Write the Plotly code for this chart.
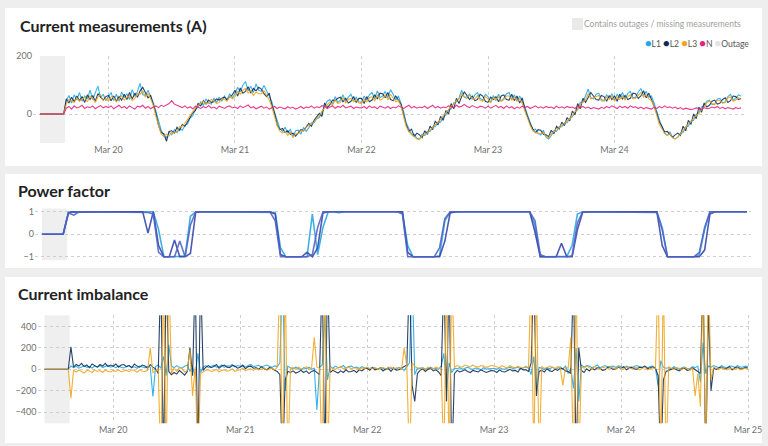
import pandas as pd
import plotly.graph_objects as go

# ---------------- data ----------------
# currents & imbalance: half-hourly from Mar 19 11:00 to Mar 25 00:00 (267 points)
# power factor: hourly from Mar 19 11:00 to Mar 25 00:00 (134 points)
START = "2024-03-19 11:00"
OUTAGE = ["2024-03-19 11:00", "2024-03-19 15:45"]
TICKS_TOP = ["2024-03-20", "2024-03-21", "2024-03-22", "2024-03-23", "2024-03-24"]
TICKS_BOTTOM = TICKS_TOP + ["2024-03-25"]
TICK_LABELS_TOP = ["Mar 20", "Mar 21", "Mar 22", "Mar 23", "Mar 24"]
TICK_LABELS_BOTTOM = TICK_LABELS_TOP + ["Mar 25"]

CUR_L1 = [0, 0, 0, 0, 0, 0, 0, 0, 0, 0, 46, 64, 38, 66, 48, 74, 44, 62, 52, 82, 50, 70, 96, 56, 68, 46,
          58, 74, 46, 68, 44, 76, 56, 70, 50, 84, 60, 78, 106, 66, 64, 82, 60, 40, 10, -28, -56, -74, -82, -62,
          -72, -54, -64, -50, -56, -40, -34, -14, -6, 16, 24, 42, 30, 52, 38, 34, 54, 40, 58, 44, 62, 50, 70, 56,
          70, 92, 76, 100, 112, 80, 96, 74, 104, 82, 78, 98, 80, 60, 42, 6, -24, -50, -60, -46, -66, -52, -78, -58,
          -56, -70, -46, -60, -48, -30, -30, -16, -12, 8, 24, 44, 50, 34, 60, 40, 48, 66, 42, 58, 68, 46, 58, 42,
          40, 62, 48, 66, 74, 52, 80, 56, 62, 78, 56, 84, 68, 48, 62, 36, 8, -32, -50, -70, -70, -84, -86, -70,
          -74, -60, -60, -44, -44, -28, -28, -10, -4, 14, 18, 38, 42, 56, 82, 58, 54, 70, 50, 66, 74, 54, 48, 68,
          60, 40, 64, 46, 68, 44, 54, 70, 74, 50, 66, 46, 62, 42, 24, -4, -28, -54, -52, -66, -72, -56, -80, -86,
          -74, -58, -60, -44, -44, -30, -30, -14, -10, 6, 16, 40, 40, 60, 86, 56, 52, 68, 72, 50, 46, 66, 54, 70,
          48, 68, 56, 74, 52, 70, 78, 56, 58, 76, 88, 64, 78, 58, 62, 38, 10, -24, -46, -66, -74, -62, -80, -86,
          -80, -66, -64, -44, -42, -24, -22, -2, 4, 24, 28, 44, 48, 32, 34, 52, 54, 38, 42, 60, 68, 48, 54, 66,
          62]
CUR_L2 = [0, 0, 0, 0, 0, 0, 0, 0, 0, 0, 52, 38, 58, 42, 62, 46, 60, 40, 66, 50, 64, 44, 70, 58, 48, 60,
          64, 46, 62, 44, 60, 48, 68, 50, 74, 52, 72, 58, 80, 92, 74, 56, 64, 36, 2, -40, -64, -68, -94, -60,
          -58, -66, -46, -56, -36, -42, -26, -8, 4, 12, 36, 28, 46, 34, 48, 40, 42, 52, 48, 54, 58, 48, 60, 66,
          82, 62, 90, 72, 78, 94, 72, 88, 80, 92, 86, 70, 60, 72, 30, 4, -36, -54, -50, -64, -58, -70, -66, -76,
          -66, -54, -58, -46, -32, -42, -22, -10, 2, -8, 38, 22, 32, 48, 46, 54, 58, 42, 54, 38, 44, 60, 40, 54,
          54, 36, 60, 42, 48, 66, 52, 72, 70, 56, 74, 50, 46, 62, 50, 34, -4, -38, -60, -52, -78, -66, -72, -82,
          -58, -70, -42, -54, -24, -38, -8, -22, 12, 0, 36, 18, 54, 36, 60, 76, 64, 50, 62, 46, 50, 68, 62, 44,
          40, 58, 50, 60, 42, 62, 66, 50, 48, 68, 46, 62, 38, 56, 16, -12, -34, -52, -64, -54, -56, -70, -72, -78,
          -56, -68, -42, -52, -28, -40, -12, -24, 10, -2, 36, 18, 54, 40, 58, 74, 62, 50, 48, 64, 60, 44, 64, 50,
          62, 44, 68, 52, 64, 50, 54, 72, 70, 54, 62, 80, 56, 72, 50, 30, 4, -28, -42, -62, -60, -70, -80, -72,
          -66, -74, -42, -58, -22, -36, 0, -16, 24, 6, 38, 24, 30, 44, 48, 34, 38, 50, 56, 40, 46, 62, 60, 50,
          54]
CUR_L3 = [0, 0, 0, 0, 0, 0, 0, 0, 0, 0, 34, 50, 46, 40, 56, 44, 52, 58, 42, 62, 54, 40, 60, 66, 46, 54,
          44, 60, 56, 42, 52, 62, 48, 58, 64, 46, 54, 70, 68, 80, 58, 72, 52, 30, -8, -44, -70, -78, -70, -76,
          -62, -66, -58, -44, -42, -32, -20, -4, 8, 22, 30, 38, 44, 36, 38, 50, 46, 36, 40, 52, 50, 44, 62, 52,
          60, 78, 68, 82, 88, 72, 82, 64, 76, 70, 70, 80, 64, 48, 24, -6, -40, -58, -66, -60, -74, -62, -82, -68,
          -68, -58, -58, -46, -40, -34, -28, -14, -6, 10, 22, 32, 42, 30, 48, 36, 40, 56, 38, 50, 54, 42, 48, 38,
          36, 52, 42, 56, 60, 44, 66, 48, 52, 66, 48, 68, 56, 42, 46, 26, -10, -44, -62, -72, -78, -86, -88, -74,
          -70, -66, -54, -48, -36, -30, -18, -6, 6, 18, 26, 34, 46, 52, 70, 58, 60, 64, 54, 52, 64, 48, 44, 60,
          52, 38, 56, 50, 58, 44, 50, 62, 62, 48, 58, 44, 52, 36, 10, -16, -40, -58, -62, -68, -68, -64, -78, -82,
          -66, -62, -50, -48, -36, -34, -22, -18, -4, 8, 14, 34, 42, 48, 70, 52, 56, 60, 64, 46, 44, 58, 50, 62,
          44, 58, 50, 62, 48, 60, 66, 52, 54, 64, 74, 58, 66, 52, 46, 28, -6, -36, -52, -68, -74, -68, -82, -86,
          -80, -70, -56, -48, -34, -28, -14, -6, 2, 16, 22, 40, 44, 36, 32, 48, 46, 38, 40, 56, 58, 44, 48, 56,
          50]
CUR_N = [0, 0, 0, 0, 0, 0, 0, 0, 0, 0, 20, 26, 17, 28, 21, 24, 30, 19, 25, 22, 28, 18, 24, 29, 21, 26,
         22, 28, 18, 25, 30, 21, 26, 19, 28, 22, 17, 27, 24, 30, 20, 26, 18, 24, 28, 22, 30, 26, 32, 36,
         46, 34, 30, 26, 22, 28, 20, 25, 18, 27, 22, 19, 26, 21, 29, 20, 24, 18, 27, 22, 19, 25, 28, 21,
         24, 19, 28, 22, 26, 31, 21, 25, 18, 23, 27, 20, 24, 17, 22, 26, 19, 24, 21, 18, 25, 20, 23, 17,
         21, 26, 19, 24, 22, 28, 20, 25, 22, 29, 27, 19, 24, 28, 20, 26, 23, 30, 21, 25, 27, 19, 24, 22,
         21, 26, 19, 28, 22, 25, 18, 27, 23, 20, 26, 19, 24, 21, 28, 22, 19, 25, 30, 21, 26, 20, 24, 22,
         27, 19, 25, 30, 21, 26, 20, 24, 22, 28, 26, 21, 30, 24, 27, 33, 26, 22, 29, 24, 21, 27, 25, 20,
         27, 20, 24, 30, 22, 26, 19, 28, 21, 25, 18, 24, 20, 27, 22, 26, 19, 23, 28, 21, 25, 20, 26, 22,
         24, 19, 27, 21, 25, 20, 26, 22, 24, 19, 27, 22, 26, 20, 24, 18, 22, 20, 17, 23, 19, 26, 21, 28,
         24, 19, 27, 22, 26, 20, 28, 23, 25, 19, 24, 18, 22, 20, 17, 23, 19, 26, 21, 28, 22, 25, 20, 24,
         18, 22, 16, 20, 18, 15, 17, 21, 19, 16, 22, 18, 20, 24, 21, 26, 19, 23, 18, 22, 20, 17, 22, 19,
         21]

PF_L1 = [0, 0, 0, 0, 0, 0.98, 0.99, 1, 1, 0.99, 1, 1, 1,
         1, 1, 0.99, 1, 1, 1, 1, 1, 1, 0.2, -1, -1, -1, -0.98, -0.95, 0.8, 1, 1, 1, 0.99, 1, 1, 1, 1,
         1, 1, 1, 1, 1, 1, 1, 0.97, -0.6, -1, -1, -1, -1, -1, 0.9, -0.9, 0.3, 1, 1, 0.96, 1, 1, 1, 1,
         1, 1, 1, 1, 1, 1, 1, 0.96, -0.5, -1, -1, -1, -1, -1, -0.95, 0.6, 0.98, 1, 1, 1, 1, 1, 1, 1,
         1, 1, 1, 1, 1, 1, 1, 1, 0.4, -1, -1, -1, -1, -1, -0.98, -0.5, 0.9, 1, 1, 1, 1, 1, 1, 1,
         1, 1, 1, 1, 1, 1, 1, 1, 0.3, -1, -1, -1, -1, -1, -1, -0.9, 0.2, 1, 1, 1, 1, 1, 1, 1,
         1]
PF_L2 = [0, 0, 0, 0, 0, 0.97, 1, 0.98, 1, 1, 0.99, 1, 1,
         1, 1, 1, 1, 1, 0.99, 1, 0.05, 1, -0.5, -1, -1, -0.25, -1, -1, -0.85, 0.98, 1, 1, 1, 0.99, 1, 1, 1,
         1, 1, 1, 1, 1, 1, 1, 0.9, -0.9, -1, -1, -1, -1, -0.8, -1, -0.6, 0.95, 1, 1, 1, 1, 0.99, 1, 1,
         1, 1, 1, 1, 1, 1, 1, 1, -0.8, -1, -1, -1, -1, -1, -1, -0.3, 0.95, 1, 1, 0.99, 1, 1, 1, 1,
         1, 1, 1, 1, 1, 1, 1, 1, 0.1, -1, -1, -1, -1, -0.4, -1, -1, 0.2, 0.98, 1, 1, 1, 1, 1, 1,
         1, 1, 1, 1, 1, 1, 1, 1, -0.5, -1, -1, -1, -1, -1, -1, -1, -0.7, 0.9, 1, 1, 1, 1, 1, 1,
         1]
PF_L3 = [0, 0, 0, 0, 0, 0.95, 0.85, 1, 1, 0.98, 1, 1, 1,
         1, 1, 1, 1, 1, 1, 1, 0.97, 0.9, -0.8, -1, -1, -1, -0.3, -1, 0.4, 1, 1, 1, 1, 1, 1, 1, 1,
         1, 1, 1, 1, 1, 1, 1, 0.6, -1, -1, -1, -1, -1, -1, -0.9, 0.3, 1, 1, 1, 1, 1, 1, 1, 1,
         1, 1, 1, 1, 1, 1, 1, 0.9, -1, -1, -1, -1, -1, -1, -0.6, 0.7, 1, 1, 1, 1, 1, 1, 1, 1,
         1, 1, 1, 1, 1, 1, 1, 1, 0.6, -0.9, -1, -1, -1, -1, -1, -0.95, 0.5, 1, 1, 1, 1, 1, 1, 1,
         1, 1, 1, 1, 1, 1, 1, 0.97, 0.2, -1, -1, -1, -1, -1, -1, -0.8, 0.3, 1, 1, 1, 1, 1, 1, 1,
         1]

IMB_L1 = [0, 0, 0, 0, 0, 0, 0, 0, 0, 0, 30, 15, 28, 10, 22, 35, 18, 26, 12, 30, 20, 34, 16, 25, 38, 20,
          28, 15, 32, 20, 12, 26, 35, 18, 24, 10, 30, 22, 14, 28, 20, -255, 25, 40, 10, 120, -60, 230, 30, 15,
          35, 20, 10, 28, 40, -20, 15, -60, 150, -30, 20, 35, 15, 28, 38, 20, 25, 40, 18, 32, 30, 45, 22, 35,
          28, 40, 20, 35, 45, 25, 30, 38, 22, 35, 40, 28, 18, 32, 25, 60, 900, -200, 30, 15, 5, 20, 10, -5,
          15, 5, 20, 0, 10, -380, 20, 40, 500, -100, 25, 10, 30, 15, 20, 35, 10, 25, 30, 15, 20, 8, 25, 12,
          15, 5, 20, 8, 0, 15, 10, -5, 20, 5, 12, 0, 18, 8, -10, 25, 60, 900, -50, 10, 5, 15, 0, 10,
          20, 5, 8, 0, 30, 150, -200, 60, -30, 10, 5, 15, 0, 10, 20, 5, 0, 12, 8, -5, 15, 2, 5, 10,
          10, 0, 15, 5, 0, 12, 20, 8, 10, 18, 5, 15, 22, 10, -50, 120, -200, 20, 10, 0, 15, 5, 20, 8,
          10, 22, 5, 30, -40, 10, -180, 200, -300, 40, 20, 35, 30, 15, 25, 40, 15, 28, 35, 20, 25, 30, 18, 32,
          25, 15, 30, 20, 12, 28, 35, 22, 20, 30, 15, 25, 30, 10, -150, 80, 20, 10, 15, 5, 25, 10, 0, 15,
          20, 8, 5, 25, 15, 30, -120, 250, -40, 30, 20, 35, 25, 15, 35, 20, 15, 30, 28, 18, 35, 22, 20, 30,
          25]
IMB_L2 = [0, 0, 0, 0, 0, 0, 0, 0, 0, 0, 210, 20, 45, 30, 55, 25, 40, 15, 50, 35, 20, 45, 30, 55, 25, 40,
          30, 50, 20, 40, 45, 25, 35, 15, 50, 30, 20, 40, 30, 10, 45, 20, 5, -40, 900, -900, 900, -20, -50, -30,
          -45, -10, -30, -55, -20, 200, -60, 900, -900, 900, -10, 20, 35, 15, 25, 45, 10, 30, 40, 20, 15, 35, 30, 10,
          20, 35, 5, 25, 30, 10, 15, 0, 25, 5, -5, 15, 10, -10, -20, -50, -900, -100, -20, -30, -15, -35, -25, -10,
          -30, -15, -40, -20, -10, -30, -50, 900, -900, 900, -30, -10, -25, -35, -15, -30, -5, -25, -20, -10, -30, -5, -15, 5,
          10, -10, 15, -5, 0, 10, -15, 5, 8, -20, 12, -8, -5, 10, 20, 40, 900, -150, -300, -40, -10, 5, -20, 0,
          10, -15, -5, -25, -60, 900, -300, 900, -900, -40, -10, -25, -15, -5, -20, -30, -10, -15, -25, -5, -15, -30, -20, -10,
          -15, -30, -5, -20, -25, -10, 0, -15, -10, -25, 10, -5, -5, -20, 60, 900, -250, -20, -10, -25, 5, -15, -20, 0,
          -10, 10, 5, -15, -20, -40, 900, -900, 200, -10, -30, 5, -15, 10, -5, 15, 10, -10, -5, 20, 15, 0, 5, 20,
          10, 25, -5, 15, 20, 5, 0, 20, 15, 30, 5, 15, 20, 10, -60, -900, -100, -20, -10, 5, 10, -5, -15, 5,
          10, -10, -5, 15, 0, -20, -40, 900, -900, 600, -200, 10, 0, 15, 20, 5, 10, 25, -5, 15, 20, 8, 5, 18,
          10]
IMB_L3 = [0, 0, 0, 0, 0, 0, 0, 0, 0, 0, -270, -10, -25, -5, -20, -35, -10, -15, -30, -5, -20, -12, -28, -8, -18, -25,
          -10, -20, -5, -25, -15, -8, -22, -5, -12, -28, -5, -18, -20, -10, 200, -30, -20, 10, -900, 900, -900, 900, -40, 10,
          -20, 15, 5, -25, -10, 180, -250, 20, -900, -40, -25, -10, -5, -20, -15, 0, -25, -10, -5, -18, -12, 5, -20, -8,
          -5, 10, -15, 0, 5, -10, 10, -5, 0, 15, -8, 5, 10, -5, 20, 900, -900, 900, -900, 10, 15, 0, 20, 5,
          10, 25, 0, 15, 300, 20, 10, -900, 900, -900, 20, 10, 0, 15, 25, 5, 15, 20, 5, 15, 10, 0, 15, 5,
          20, 5, 10, 15, 0, 12, 18, 5, 10, 20, 5, 15, 12, 0, 200, 30, -900, 60, 30, 10, 15, 5, 0, 18,
          10, 5, 20, 10, 15, -900, 900, -900, 900, 20, 35, 25, 20, 40, 30, 22, 40, 25, 20, 35, 30, 18, 25, 38,
          30, 20, 15, 35, 25, 10, 35, 20, 15, 28, 20, 10, 30, 15, 900, -900, 900, -900, 25, 10, 15, 30, 20, 5,
          25, 15, -150, 20, 10, 300, -900, 900, -900, 25, 10, 30, 15, 5, 25, 10, 0, 20, 15, 5, 20, 10, 5, 25,
          15, 0, 20, 10, 5, 18, 15, -5, 10, 20, -5, 8, 15, 5, 900, -900, 900, -900, 25, 10, 0, 15, 10, -5,
          20, 5, -10, 15, -250, -40, -350, 900, -900, 900, -100, 20, 10, 0, 15, 5, -5, 12, 10, 0, 15, -5, 5, 10,
          5]

_half = {"CUR_L1": CUR_L1, "CUR_L2": CUR_L2, "CUR_L3": CUR_L3, "CUR_N": CUR_N,
         "IMB_L1": IMB_L1, "IMB_L2": IMB_L2, "IMB_L3": IMB_L3}
_hour = {"PF_L1": PF_L1, "PF_L2": PF_L2, "PF_L3": PF_L3}
for _k, _s in _half.items():
    assert len(_s) == 267, (_k, len(_s))
for _k, _s in _hour.items():
    assert len(_s) == 134, (_k, len(_s))

# ---------------- styling ----------------
W, H = 768, 446
C_L1, C_L2, C_L3, C_N = "#1DA8EA", "#0E2A55", "#F0A51C", "#E8207F"
PF_C = ["#2BA6E2", "#3445A8", "#5261C4"]
GRID = "#CFCFCF"
FONT = "Lato, Noto Sans, sans-serif"
TICKFONT = dict(family=FONT, size=9, color="#707070")
TITLEFONT = dict(family=FONT, size=16, color="#222222")
X_RANGE = ["2024-03-19 09:41", "2024-03-25 00:45"]


def px(x):
    return x / W


def py(y):
    return 1 - y / H


t_half = pd.date_range(START, periods=267, freq="30min")
t_hour = pd.date_range(START, periods=134, freq="h")

fig = go.Figure()


def add(x, y, color, xa, ya, width=1.1, opacity=0.88):
    fig.add_trace(go.Scatter(x=x, y=y, mode="lines", xaxis=xa, yaxis=ya,
                             line=dict(color=color, width=width), opacity=opacity,
                             showlegend=False, hoverinfo="skip"))


for s, c in ((CUR_L1, C_L1), (CUR_L2, C_L2), (CUR_L3, C_L3), (CUR_N, C_N)):
    add(t_half, s, c, "x", "y")
for s, c in ((PF_L1, PF_C[0]), (PF_L2, PF_C[1]), (PF_L3, PF_C[2])):
    add(t_hour, s, c, "x2", "y2", width=1.6)
for s, c in ((IMB_L1, C_L1), (IMB_L2, C_L2), (IMB_L3, C_L3)):
    add(t_half, s, c, "x3", "y3")

xcommon = dict(type="date", range=X_RANGE, showline=False, zeroline=False, ticks="",
               griddash="dot", gridcolor=GRID, gridwidth=1, tickfont=TICKFONT, automargin=False)
ycommon = dict(showline=False, zeroline=False, ticks="", griddash="dot", gridcolor=GRID,
               gridwidth=1, tickfont=TICKFONT, automargin=False)

fig.update_layout(
    width=W, height=H, autosize=False,
    margin=dict(l=0, r=0, t=0, b=0, autoexpand=False),
    paper_bgcolor="#EEEEEE", plot_bgcolor="rgba(0,0,0,0)",
    xaxis=dict(xcommon, domain=[px(33), px(745)], anchor="y", tickvals=TICKS_TOP,
               ticktext=TICK_LABELS_TOP, showgrid=True),
    yaxis=dict(ycommon, domain=[py(143), py(56)], anchor="x", range=[-100, 200],
               tickvals=[0, 200]),
    xaxis2=dict(xcommon, domain=[px(35), px(751)], anchor="y2", showgrid=False,
                showticklabels=False),
    yaxis2=dict(ycommon, domain=[py(260.2), py(208.4)], anchor="x2", range=[-1.15, 1.15],
                tickvals=[-1, 0, 1]),
    xaxis3=dict(xcommon, domain=[px(37.5), px(752)], anchor="y3", tickvals=TICKS_BOTTOM,
                ticktext=TICK_LABELS_BOTTOM, showgrid=True),
    yaxis3=dict(ycommon, domain=[py(423.3), py(315.3)], anchor="x3", range=[-505, 505],
                tickvals=[-400, -200, 0, 200, 400], ticksuffix="%"),
)

shapes = []
for (y0, y1) in ((8, 166), (174, 268), (277, 443)):
    shapes.append(dict(type="rect", xref="paper", yref="paper", x0=px(5), x1=px(762),
                       y0=py(y1), y1=py(y0), fillcolor="white", line=dict(width=0), layer="below"))
for xa, ya in (("x", "y"), ("x2", "y2"), ("x3", "y3")):
    shapes.append(dict(type="rect", xref=xa, yref=ya + " domain", x0=OUTAGE[0], x1=OUTAGE[1],
                       y0=0, y1=1, fillcolor="#EFEFEF", line=dict(width=0), layer="below"))
shapes.append(dict(type="rect", xref="paper", yref="paper", x0=px(572), x1=px(583),
                   y0=py(30), y1=py(18), fillcolor="#E9E9E9", line=dict(width=0)))
fig.update_layout(shapes=shapes)

ann = []
for text, x, y in (("Current measurements (A)", 18, 25), ("Power factor", 16, 190.5),
                   ("Current imbalance", 16, 293)):
    ann.append(dict(text="<b>" + text + "</b>", x=px(x), y=py(y), xref="paper", yref="paper",
                    xanchor="left", yanchor="middle", showarrow=False, font=TITLEFONT))
ann.append(dict(text="Contains outages / missing measurements", x=px(743), y=py(24),
                xref="paper", yref="paper", xanchor="right", yanchor="middle", showarrow=False,
                font=dict(family=FONT, size=8.5, color="#A0A0A0")))
dot = "<span style='color:{};font-size:11px'>\u25CF</span>"
legend_text = (dot.format(C_L1) + "L1 " + dot.format(C_L2) + "L2 " + dot.format(C_L3) + "L3 "
               + dot.format(C_N) + "N " + dot.format("#E3E3E3") + "Outage")
ann.append(dict(text=legend_text, x=px(751), y=py(42.5), xref="paper", yref="paper",
                xanchor="right", yanchor="middle", showarrow=False,
                font=dict(family=FONT, size=8.5, color="#555555")))
fig.update_layout(annotations=ann)

fig.write_html("out.html")
